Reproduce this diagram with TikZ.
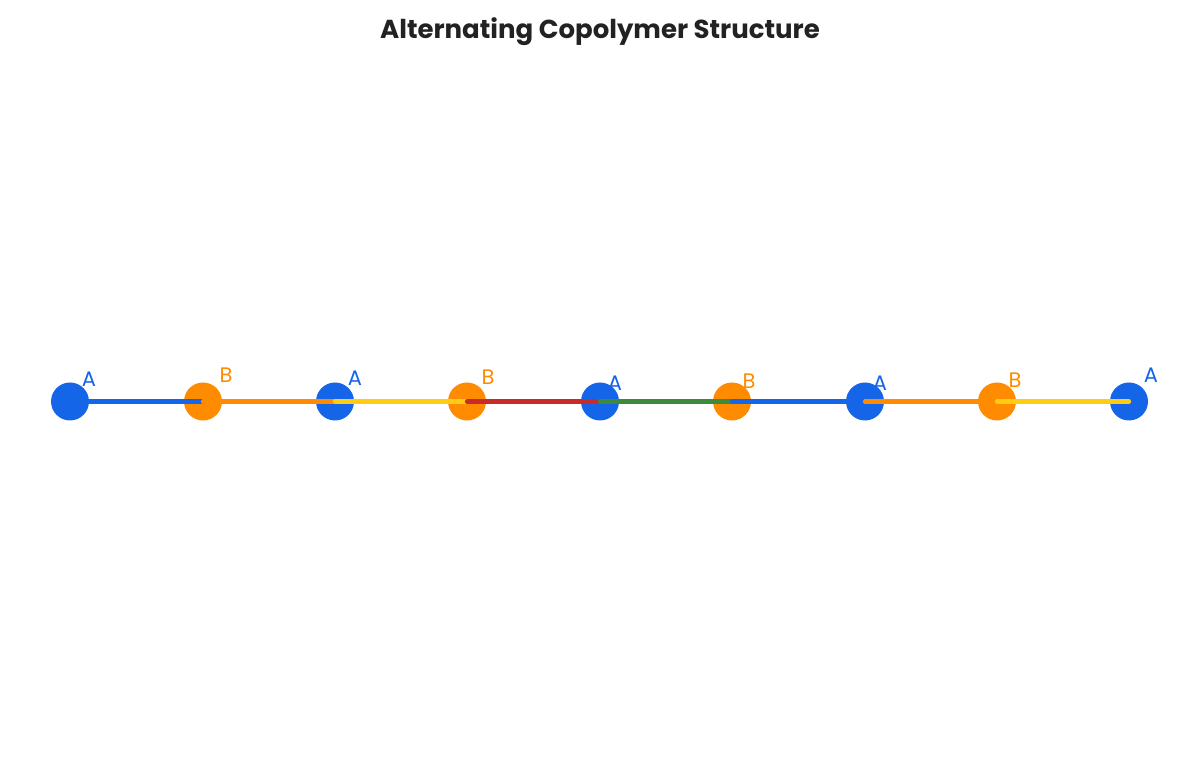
\documentclass[tikz,border=0pt]{standalone}
\usepackage{fontspec}
\setmainfont{Poppins}
\definecolor{cA}{HTML}{1565E9}
\definecolor{cB}{HTML}{FF8C00}
\definecolor{cY}{HTML}{FFCC14}
\definecolor{cR}{HTML}{C92A2A}
\definecolor{cG}{HTML}{3D8A3D}
\definecolor{ttl}{HTML}{222222}
\begin{document}
\begin{tikzpicture}[x=1pt,y=1pt,
  monoA/.style={circle,fill=cA,minimum size=38pt,inner sep=0pt},
  monoB/.style={circle,fill=cB,minimum size=38pt,inner sep=0pt},
  labA/.style={text=cA,font=\fontsize{21}{21}\selectfont,inner sep=0pt},
  labB/.style={text=cB,font=\fontsize{21}{21}\selectfont,inner sep=0pt},
  bond/.style={line width=4.2pt,line cap=round}]
\useasboundingbox (0,0) rectangle (1200,763);
\node[font=\fontsize{26}{26}\selectfont\bfseries,text=ttl] (title) at (600,731) {Alternating Copolymer Structure};
\node[monoA] (m1) at (70,361.5) {};
\node[monoB] (m2) at (203,361.5) {};
\node[monoA] (m3) at (335,361.5) {};
\node[monoB] (m4) at (467,361.5) {};
\node[monoA] (m5) at (600,361.5) {};
\node[monoB] (m6) at (732,361.5) {};
\node[monoA] (m7) at (865,361.5) {};
\node[monoB] (m8) at (997,361.5) {};
\node[monoA] (m9) at (1129,361.5) {};
\draw[bond,cA] (m1.center) -- (m2.center);
\draw[bond,cB] (m2.center) -- (m3.center);
\draw[bond,cY] (m3.center) -- (m4.center);
\draw[bond,cR] (m4.center) -- (m5.center);
\draw[bond,cG] (m5.center) -- (m6.center);
\draw[bond,cA] (m6.center) -- (m7.center);
\draw[bond,cB] (m7.center) -- (m8.center);
\draw[bond,cY] (m8.center) -- (m9.center);
\node[labA] (l1) at (89,384) {A};
\node[labB] (l2) at (226,388) {B};
\node[labA] (l3) at (355,385) {A};
\node[labB] (l4) at (488,386) {B};
\node[labA] (l5) at (615,380) {A};
\node[labB] (l6) at (749,382) {B};
\node[labA] (l7) at (880,380) {A};
\node[labB] (l8) at (1015,383) {B};
\node[labA] (l9) at (1151,388) {A};
\end{tikzpicture}
\end{document}
